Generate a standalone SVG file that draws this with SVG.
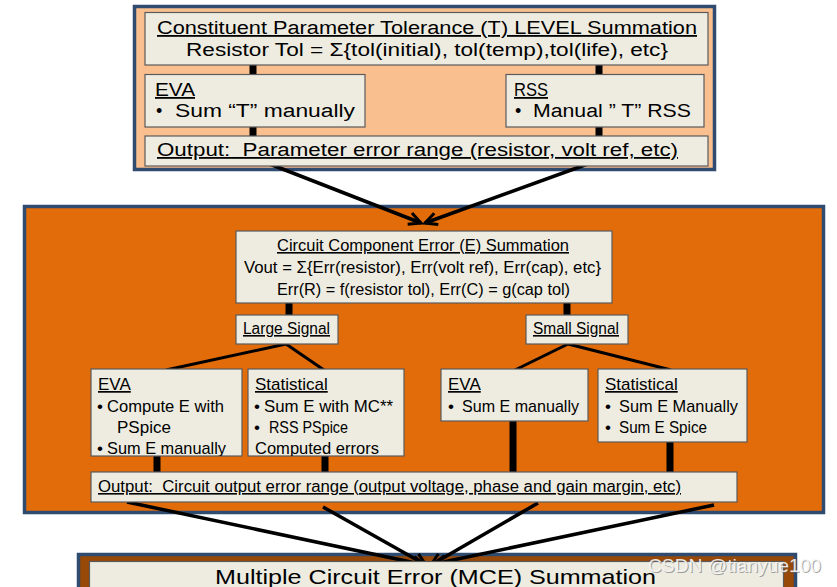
<svg xmlns="http://www.w3.org/2000/svg" width="837" height="587" viewBox="0 0 837 587">
<defs>
<marker id="arr" markerUnits="userSpaceOnUse" markerWidth="18" markerHeight="16" refX="14" refY="8" orient="auto">
<path d="M2,2 L14,8 L2,14" fill="none" stroke="#000" stroke-width="3"/>
</marker>
<clipPath id="clipEva1"><rect x="91" y="369" width="151" height="87"/></clipPath>
<clipPath id="clipStat1"><rect x="248" y="369" width="156" height="87"/></clipPath>
</defs>
<style>
.panel{stroke:#2F4B70;stroke-width:3.5}
.box{fill:#EEECE1;stroke:#5A5A5A;stroke-width:1.2}
text{font-family:"Liberation Sans",Arial,sans-serif;fill:#000}
.t18{font-size:18px}
.t17{font-size:17px}
.t16{font-size:16px}
.u{text-decoration:underline}
.bar{stroke:#000;stroke-width:7}
.ln{stroke:#000;stroke-width:3;fill:none}
.ar{stroke:#000;stroke-width:3.5;fill:none;marker-end:url(#arr)}
text.wm{font-size:19px;font-family:"Liberation Sans",sans-serif}
text.wm-shadow{fill:#6a6a6a;fill-opacity:0.6}
text.wm-front{fill:#f6f6f6;fill-opacity:0.92}
</style>
<rect width="837" height="587" fill="#fff"/>

<g id="panel-parameter">
<rect x="134.5" y="6.5" width="580" height="163" fill="#FABF8F" class="panel"/>
</g>
<g id="panel-circuit">
<rect x="24.5" y="206.5" width="799" height="306" fill="#E36C0A" class="panel"/>
</g>
<g id="panel-mce">
<rect x="78.5" y="554.5" width="717" height="45" fill="#984807" class="panel"/>
</g>

<g id="connectors">
<line class="bar" x1="253" y1="65" x2="253" y2="75"/>
<line class="bar" x1="599" y1="65" x2="599" y2="75"/>
<line class="bar" x1="253" y1="127" x2="253" y2="137"/>
<line class="bar" x1="599" y1="127" x2="599" y2="137"/>
<line class="ar" x1="262" y1="161" x2="421" y2="223"/>
<line class="ar" x1="596" y1="161" x2="425" y2="223"/>
<line class="bar" x1="289" y1="303" x2="289" y2="315"/>
<line class="bar" x1="567" y1="303" x2="567" y2="315"/>
<line class="ln" x1="286" y1="344" x2="166" y2="370"/>
<line class="ln" x1="286" y1="344" x2="324" y2="370"/>
<line class="ln" x1="568" y1="344" x2="515" y2="370"/>
<line class="ln" x1="568" y1="344" x2="671" y2="370"/>
<line class="bar" x1="157" y1="456" x2="157" y2="472"/>
<line class="bar" x1="325" y1="456" x2="325" y2="472"/>
<line class="bar" x1="513" y1="421" x2="513" y2="472"/>
<line class="bar" x1="670" y1="442" x2="670" y2="472"/>
<line class="ar" x1="127" y1="502" x2="425" y2="565"/>
<line class="ar" x1="323" y1="507" x2="426" y2="565"/>
<line class="ar" x1="538" y1="503" x2="431" y2="565"/>
<line class="ar" x1="714" y1="505" x2="434" y2="564"/>
</g>

<g id="node-tolerance">
<rect class="box" x="145" y="12.5" width="563" height="52.5"/>
<text class="t18 u" x="157" y="34" textLength="540" lengthAdjust="spacingAndGlyphs">Constituent Parameter Tolerance (T) LEVEL Summation</text>
<text class="t18" x="186" y="56" textLength="482" lengthAdjust="spacingAndGlyphs">Resistor Tol = Σ{tol(initial), tol(temp),tol(life), etc}</text>
</g>
<g id="node-eva-t">
<rect class="box" x="145" y="74.5" width="220" height="52.5"/>
<text class="t18 u" x="155" y="96" textLength="40" lengthAdjust="spacingAndGlyphs">EVA</text>
<text class="t18" x="156" y="117">•</text>
<text class="t18" x="175" y="117" textLength="180" lengthAdjust="spacingAndGlyphs">Sum “T” manually</text>
</g>
<g id="node-rss-t">
<rect class="box" x="506" y="74.5" width="198" height="52.5"/>
<text class="t18 u" x="514" y="96" textLength="34" lengthAdjust="spacingAndGlyphs">RSS</text>
<text class="t18" x="515" y="117">•</text>
<text class="t18" x="533" y="117" textLength="158" lengthAdjust="spacingAndGlyphs">Manual ” T” RSS</text>
</g>
<g id="node-param-output">
<rect class="box" x="145" y="136" width="563" height="30"/>
<text class="t18 u" x="157" y="156" textLength="521" lengthAdjust="spacingAndGlyphs" xml:space="preserve">Output:  Parameter error range (resistor, volt ref, etc)</text>
</g>

<g id="node-circuit-sum">
<rect class="box" x="236" y="231" width="376" height="72"/>
<text class="t16 u" x="277" y="251" textLength="292" lengthAdjust="spacingAndGlyphs">Circuit Component Error (E) Summation</text>
<text class="t16" x="244" y="273" textLength="357" lengthAdjust="spacingAndGlyphs">Vout = Σ{Err(resistor), Err(volt ref), Err(cap), etc}</text>
<text class="t16" x="277" y="295" textLength="293" lengthAdjust="spacingAndGlyphs">Err(R) = f(resistor tol), Err(C) = g(cap tol)</text>
</g>
<g id="node-large-signal">
<rect class="box" x="236" y="315" width="102" height="29"/>
<text class="t16 u" x="243" y="334" textLength="87" lengthAdjust="spacingAndGlyphs">Large Signal</text>
</g>
<g id="node-small-signal">
<rect class="box" x="526" y="315" width="102" height="29"/>
<text class="t16 u" x="533" y="334" textLength="86" lengthAdjust="spacingAndGlyphs">Small Signal</text>
</g>
<g id="node-eva-large">
<rect class="box" x="91" y="369" width="151" height="87"/>
<g clip-path="url(#clipEva1)">
<text class="t17 u" x="98" y="390">EVA</text>
<text class="t17" x="97" y="412">•</text>
<text class="t17" x="107" y="412" textLength="117" lengthAdjust="spacingAndGlyphs">Compute E with</text>
<text class="t17" x="117" y="433">PSpice</text>
<text class="t17" x="97" y="454">•</text>
<text class="t17" x="107" y="454" textLength="119" lengthAdjust="spacingAndGlyphs">Sum E manually</text>
</g>
</g>
<g id="node-stat-large">
<rect class="box" x="248" y="369" width="156" height="87"/>
<g clip-path="url(#clipStat1)">
<text class="t17 u" x="255" y="390">Statistical</text>
<text class="t17" x="254" y="412">•</text>
<text class="t17" x="264" y="412" textLength="129" lengthAdjust="spacingAndGlyphs">Sum E with MC**</text>
<text class="t17" x="254" y="433">•</text>
<text class="t17" x="269" y="433" textLength="79" lengthAdjust="spacingAndGlyphs">RSS PSpice</text>
<text class="t17" x="255" y="454" textLength="124" lengthAdjust="spacingAndGlyphs">Computed errors</text>
</g>
</g>
<g id="node-eva-small">
<rect class="box" x="441" y="369" width="147" height="52"/>
<text class="t17 u" x="448" y="390">EVA</text>
<text class="t17" x="448" y="412">•</text>
<text class="t17" x="462" y="412" textLength="117" lengthAdjust="spacingAndGlyphs">Sum E manually</text>
</g>
<g id="node-stat-small">
<rect class="box" x="598" y="369" width="149" height="73"/>
<text class="t17 u" x="605" y="390">Statistical</text>
<text class="t17" x="605" y="412">•</text>
<text class="t17" x="619" y="412" textLength="119" lengthAdjust="spacingAndGlyphs">Sum E Manually</text>
<text class="t17" x="605" y="433">•</text>
<text class="t17" x="619" y="433" textLength="88" lengthAdjust="spacingAndGlyphs">Sum E Spice</text>
</g>
<g id="node-circuit-output">
<rect class="box" x="91" y="472" width="646" height="30"/>
<text class="t16 u" x="98" y="492" textLength="583" lengthAdjust="spacingAndGlyphs" xml:space="preserve">Output:  Circuit output error range (output voltage, phase and gain margin, etc)</text>
</g>

<g id="node-mce">
<rect class="box" x="89.5" y="561.5" width="694" height="40"/>
<text x="215" y="584" font-size="21" textLength="441" lengthAdjust="spacingAndGlyphs">Multiple Circuit Error (MCE) Summation</text>
</g>

<g id="watermark">
<text class="wm wm-shadow" x="649" y="573" textLength="173" lengthAdjust="spacingAndGlyphs">CSDN @tianyue100</text>
<text class="wm wm-front" x="648" y="572" textLength="173" lengthAdjust="spacingAndGlyphs">CSDN @tianyue100</text>
</g>
</svg>
